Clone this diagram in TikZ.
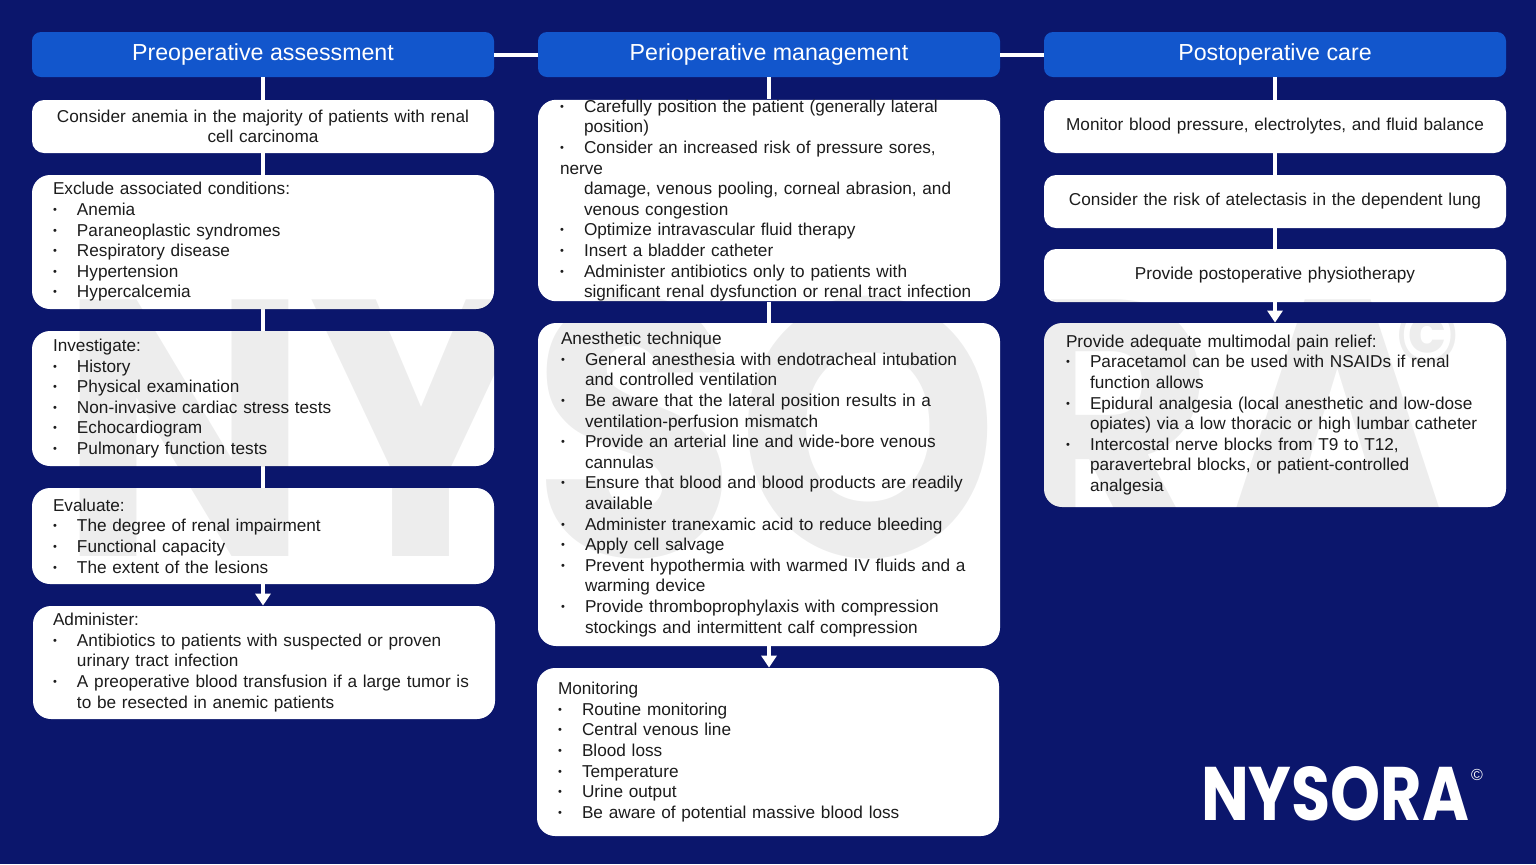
\documentclass[tikz,border=0pt]{standalone}
\usepackage{fontspec}
\setmainfont{Liberation Sans}
\newfontfamily\logofont{Poppins}[UprightFont=*-Bold]
\usetikzlibrary{arrows.meta}
\definecolor{bgblue}{HTML}{0B166C}
\definecolor{headblue}{HTML}{1256CC}
\definecolor{inktext}{HTML}{1C1C1C}
\newlength{\bi}\setlength{\bi}{12pt}
\newcommand{\B}{\makebox[\bi][l]{\raisebox{1pt}{\fontsize{5.5pt}{6pt}\selectfont •}}}
\newcommand{\C}{\hspace*{\bi}}
\newcommand{\boxat}[7]{%
  \node[#7,minimum width={(#4-#2)*0.5pt},minimum height={(#5-#3)*0.5pt}] (#1) at ({(#2+#4)/2},{(#3+#5)/2}) {#6};}
\tikzset{
  headbox/.style={fill=headblue,rounded corners=4.5pt,text=white,inner sep=0pt,align=center,font=\fontsize{11.6pt}{14pt}\selectfont},
  midbox/.style={fill=white,rounded corners=6pt,text=inktext,inner sep=0pt,text width=215pt,align=center,font=\fontsize{8.6pt}{10.3pt}\selectfont},
  listbox/.style={fill=white,rounded corners=9pt,text=inktext,inner ysep=0pt,inner xsep=0pt,text width=231pt-2*#1,align=left,font=\fontsize{8.6pt}{10.3pt}\selectfont},
  link/.style={draw=white,line width=2pt},
  arrowlink/.style={draw=white,line width=2pt,-{Triangle[width=7.5pt,length=6pt]}},
}
\begin{document}
\begin{tikzpicture}[x=0.5pt,y=-0.5pt]
\useasboundingbox (0,0) rectangle (1536,864);
\fill[bgblue] (0,0) rectangle (1536,864);
% headers
\boxat{h1}{32}{32}{494}{77}{Preoperative assessment}{headbox}
\boxat{h2}{538}{32}{1000}{77}{Perioperative management}{headbox}
\boxat{h3}{1044}{32}{1506}{77}{Postoperative care}{headbox}
% column 1
\boxat{a1}{32}{100}{494}{153}{Consider anemia in the majority of patients with renal\\cell carcinoma}{midbox}
\boxat{a2}{32}{175}{494}{309}{Exclude associated conditions:\\\B Anemia\\\B Paraneoplastic syndromes\\\B Respiratory disease\\\B Hypertension\\\B Hypercalcemia}{listbox=10.5pt}
\boxat{a3}{32}{331}{494}{466}{Investigate:\\\B History\\\B Physical examination\\\B Non-invasive cardiac stress tests\\\B Echocardiogram\\\B Pulmonary function tests}{listbox=10.5pt}
\boxat{a4}{32}{488}{494}{584}{Evaluate:\\\B The degree of renal impairment\\\B Functional capacity\\\B The extent of the lesions}{listbox=10.5pt}
\boxat{a5}{33}{606}{495}{719}{Administer:\\\B Antibiotics to patients with suspected or proven\\\C urinary tract infection\\\B A preoperative blood transfusion if a large tumor is\\\C to be resected in anemic patients}{listbox=10pt}
% column 2
\boxat{b1}{538}{100}{1000}{301}{\B Carefully position the patient (generally lateral\\\C position)\\\B Consider an increased risk of pressure sores, nerve\\\C damage, venous pooling, corneal abrasion, and\\\C venous congestion\\\B Optimize intravascular fluid therapy\\\B Insert a bladder catheter\\\B Administer antibiotics only to patients with\\\C significant renal dysfunction or renal tract infection}{listbox=11pt}
\boxat{b2}{538}{323}{1000}{646}{Anesthetic technique\\\B General anesthesia with endotracheal intubation\\\C and controlled ventilation\\\B Be aware that the lateral position results in a\\\C ventilation-perfusion mismatch\\\B Provide an arterial line and wide-bore venous\\\C cannulas\\\B Ensure that blood and blood products are readily\\\C available\\\B Administer tranexamic acid to reduce bleeding\\\B Apply cell salvage\\\B Prevent hypothermia with warmed IV fluids and a\\\C warming device\\\B Provide thromboprophylaxis with compression\\\C stockings and intermittent calf compression}{listbox=11.5pt}
\boxat{b3}{537}{668}{999}{836}{Monitoring\\\B Routine monitoring\\\B Central venous line\\\B Blood loss\\\B Temperature\\\B Urine output\\\B Be aware of potential massive blood loss}{listbox=10.5pt}
% column 3
\boxat{c1}{1044}{100}{1506}{153}{Monitor blood pressure, electrolytes, and fluid balance}{midbox}
\boxat{c2}{1044}{175}{1506}{228}{Consider the risk of atelectasis in the dependent lung}{midbox}
\boxat{c3}{1044}{249}{1506}{302}{Provide postoperative physiotherapy}{midbox}
\boxat{c4}{1044}{323}{1506}{507}{Provide adequate multimodal pain relief:\\\B Paracetamol can be used with NSAIDs if renal\\\C function allows\\\B Epidural analgesia (local anesthetic and low-dose\\\C opiates) via a low thoracic or high lumbar catheter\\\B Intercostal nerve blocks from T9 to T12,\\\C paravertebral blocks, or patient-controlled\\\C analgesia}{listbox=11pt}
% connectors
\draw[link] (h1.east) -- (h2.west);
\draw[link] (h2.east) -- (h3.west);
\draw[link] (h1.south) -- (a1.north);
\draw[link] (a1.south) -- (a2.north);
\draw[link] (a2.south) -- (a3.north);
\draw[link] (a3.south) -- (a4.north);
\draw[arrowlink] (a4.south) -- (a4.south |- a5.north);
\draw[link] (h2.south) -- (b1.north);
\draw[link] (b1.south) -- (b2.north);
\draw[arrowlink] (b2.south) -- (b2.south |- b3.north);
\draw[link] (h3.south) -- (c1.north);
\draw[link] (c1.south) -- (c2.north);
\draw[link] (c2.south) -- (c3.north);
\draw[arrowlink] (c3.south) -- (c4.north);
% watermark
\begin{scope}
\clip[rounded corners=9pt]
  (a2.south west) rectangle (a2.north east)
  (a3.south west) rectangle (a3.north east)
  (a4.south west) rectangle (a4.north east)
  (b1.south west) rectangle (b1.north east)
  (b2.south west) rectangle (b2.north east)
  (c3.south west) rectangle (c3.north east)
  (c4.south west) rectangle (c4.north east);
\node[text=black,opacity=0.07,inner sep=0pt] (wm) at (760,428) {\resizebox{700pt}{130pt}{\logofont NYSORA}};
\node[text=black,opacity=0.07,inner sep=0pt] (wmc) at (1428,335) {\fontsize{40pt}{40pt}\selectfont\logofont ©};
\end{scope}
% logo
\node[text=white,inner sep=0pt] (logo) at (1335,794) {\resizebox{134pt}{27pt}{\logofont NYSORA}};
\node[text=white,inner sep=0pt] (logoc) at (1477,775) {\fontsize{8pt}{8pt}\selectfont ©};
\end{tikzpicture}
\end{document}
